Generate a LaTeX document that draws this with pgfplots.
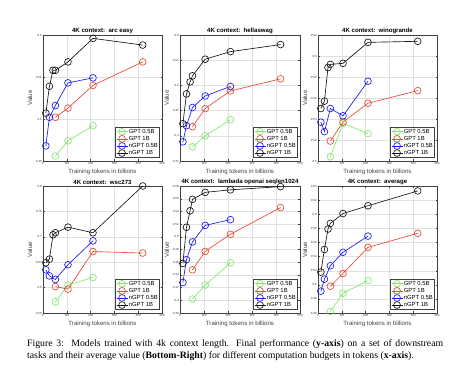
\documentclass[border=0pt]{standalone}
\usepackage{fontspec}
\setmainfont{Liberation Serif}
\setsansfont{Liberation Sans}
\usepackage{pgfplots}
\pgfplotsset{compat=1.18}
\definecolor{cg}{RGB}{130,228,105}
\definecolor{cr}{RGB}{232,72,52}
\definecolor{cb}{RGB}{25,25,235}
\definecolor{ck}{RGB}{20,20,20}
\pgfplotsset{
 panel/.style={
  scale only axis, xmin=0, xmax=500, xtick={0,100,200,300,400,500},
  anchor=south west,
  grid=major, grid style={black!12, line width=0.3bp},
  axis line style={black!75, line width=0.4bp},
  tick style={black!75, line width=0.3bp}, major tick length=1.5bp, tick align=inside,
  ticklabel style={font=\sffamily\fontsize{3}{3.5}\selectfont, text=black!80, inner sep=1bp},
  /pgf/number format/assume math mode=true,
  yticklabel style={/pgf/number format/fixed, /pgf/number format/precision=2},
  scaled y ticks=false,
  xlabel={Training tokens in billions}, ylabel={Value},
  every axis x label/.style={at={(axis description cs:0.5,-0.088)}, anchor=center},
  every axis y label/.style={at={(axis description cs:-0.11,0.5)}, rotate=90, anchor=center},
  label style={font=\sffamily\fontsize{6.1}{7}\selectfont, text=black!75},
  every axis title/.style={at={(axis description cs:0.5,1)}, anchor=south, inner sep=1bp},
  title style={font=\sffamily\bfseries\fontsize{6.1}{7}\selectfont},
  legend style={at={(1,0)}, anchor=south east, xshift=-2.5bp, yshift=3.5bp,
    font=\sffamily\fontsize{5.9}{6.5}\selectfont, draw=black!75, line width=0.3bp,
    inner sep=0.6bp, row sep=-0.3bp, nodes={inner sep=0.9bp}},
  legend cell align=left,
  legend image code/.code={\draw[mark repeat=2,mark phase=2,#1] plot coordinates {(0bp,0bp) (5.5bp,0bp) (11bp,0bp)};},
  every axis plot/.append style={line width=0.65bp, mark=o, mark size=3.4bp},
  clip=false,
 },
 top/.style={panel, width=119bp, height=126bp},
 bot/.style={panel, width=119bp, height=127bp},
}
\begin{document}
\begin{tikzpicture}
\useasboundingbox (0bp,0bp) rectangle (474bp,370bp);
% arc easy
\begin{axis}[top, at={(43bp,209bp)}, ymin=0.45, ymax=0.6, ytick={0.45,0.5,0.55,0.6}, title={4K context:\ \ arc easy}]
\addplot[cg] coordinates {(52,0.456) (105,0.474) (210,0.492)};
\addplot[cr] coordinates {(52,0.502) (105,0.513) (210,0.540) (419,0.568)};
\addplot[cb] coordinates {(12,0.468) (27,0.502) (52,0.516) (105,0.543) (210,0.549)};
\addplot[ck] coordinates {(12,0.507) (27,0.539) (42,0.558) (52,0.558) (105,0.568) (210,0.596) (419,0.588)};
\legend{GPT 0.5B, GPT 1B, nGPT 0.5B, nGPT 1B}
\end{axis}
% hellaswag
\begin{axis}[top, at={(180bp,209bp)}, width=120bp, ymin=0.35, ymax=0.6, ytick={0.35,0.4,0.45,0.5,0.55,0.6}, title={4K context:\ \ hellaswag}]
\addplot[cg] coordinates {(52,0.378) (105,0.400) (210,0.432)};
\addplot[cr] coordinates {(52,0.418) (105,0.454) (210,0.489) (419,0.513)};
\addplot[cb] coordinates {(12,0.388) (27,0.420) (52,0.456) (105,0.479) (210,0.498)};
\addplot[ck] coordinates {(12,0.424) (27,0.483) (42,0.507) (52,0.519) (105,0.552) (210,0.567) (419,0.581)};
\legend{GPT 0.5B, GPT 1B, nGPT 0.5B, nGPT 1B}
\end{axis}
% winogrande
\begin{axis}[top, at={(318bp,209bp)}, ymin=0.5, ymax=0.62, ytick={0.5,0.52,0.54,0.56,0.58,0.6,0.62}, title={4K context:\ \ winogrande}]
\addplot[cg] coordinates {(52,0.504) (105,0.536) (210,0.526)};
\addplot[cr] coordinates {(52,0.519) (105,0.537) (210,0.555) (419,0.567)};
\addplot[cb] coordinates {(12,0.537) (27,0.528) (52,0.550) (105,0.543) (210,0.576)};
\addplot[ck] coordinates {(12,0.550) (27,0.557) (42,0.589) (52,0.592) (105,0.593) (210,0.613) (419,0.614)};
\legend{GPT 0.5B, GPT 1B, nGPT 0.5B, nGPT 1B}
\end{axis}
% wsc273
\begin{axis}[bot, at={(43bp,57bp)}, ymin=0.55, ymax=0.8, ytick={0.55,0.6,0.65,0.7,0.75,0.8}, title={4K context:\ \ wsc273}]
\addplot[cg] coordinates {(52,0.572) (105,0.605) (210,0.620)};
\addplot[cr] coordinates {(52,0.602) (105,0.597) (210,0.671) (419,0.668)};
\addplot[cb] coordinates {(12,0.635) (27,0.623) (52,0.616) (105,0.645) (210,0.692)};
\addplot[ck] coordinates {(12,0.649) (27,0.656) (42,0.704) (52,0.708) (105,0.719) (210,0.708) (419,0.800)};
\legend{GPT 0.5B, GPT 1B, nGPT 0.5B, nGPT 1B}
\end{axis}
% lambada
\begin{axis}[bot, at={(180bp,57bp)}, width=120bp, ymin=0.38, ymax=0.58, ytick={0.38,0.4,0.42,0.44,0.46,0.48,0.5,0.52,0.54,0.56,0.58}, title={4K context:\ \ lambada openai seqlen1024}]
\addplot[cg] coordinates {(52,0.402) (105,0.424) (210,0.459)};
\addplot[cr] coordinates {(52,0.448) (105,0.477) (210,0.504) (419,0.546)};
\addplot[cb] coordinates {(12,0.428) (27,0.464) (52,0.492) (105,0.518) (210,0.527)};
\addplot[ck] coordinates {(12,0.458) (27,0.515) (42,0.541) (52,0.559) (105,0.570) (210,0.574) (419,0.579)};
\legend{GPT 0.5B, GPT 1B, nGPT 0.5B, nGPT 1B}
\end{axis}
% average
\begin{axis}[bot, at={(318bp,57bp)}, ymin=0.46, ymax=0.64, ytick={0.46,0.48,0.5,0.52,0.54,0.56,0.58,0.6,0.62,0.64}, title={4K context:\ \ average}]
\addplot[cg] coordinates {(52,0.462) (105,0.488) (210,0.506)};
\addplot[cr] coordinates {(52,0.498) (105,0.516) (210,0.553) (419,0.573)};
\addplot[cb] coordinates {(12,0.491) (27,0.508) (52,0.527) (105,0.546) (210,0.569)};
\addplot[ck] coordinates {(12,0.518) (27,0.550) (42,0.579) (52,0.587) (105,0.601) (210,0.612) (419,0.633)};
\legend{GPT 0.5B, GPT 1B, nGPT 0.5B, nGPT 1B}
\end{axis}
% caption
\node[anchor=base west, inner sep=0] at (27bp,24bp) {\fontsize{9.8}{12}\selectfont\makebox[416bp][s]{Figure 3:\ \ Models trained with 4k context length. Final performance (\textbf{y-axis}) on a set of downstream}};
\node[anchor=base west, inner sep=0] at (27bp,12bp) {\fontsize{9.8}{12}\selectfont tasks and their average value (\textbf{Bottom-Right}) for different computation budgets in tokens (\textbf{x-axis}).};
\end{tikzpicture}
\end{document}
